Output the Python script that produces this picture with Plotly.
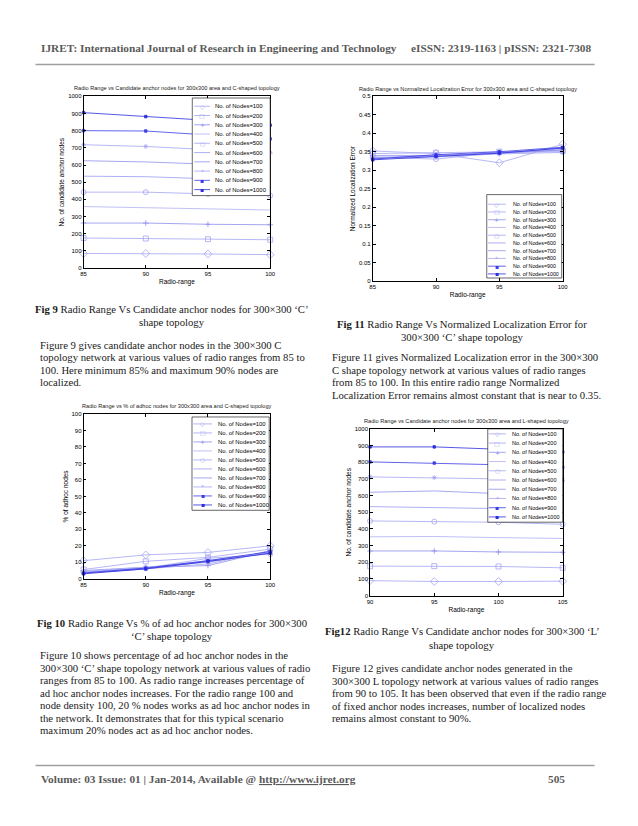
import plotly.graph_objects as go

W, H = 638, 826

node_labels = ['No. of Nodes=100', 'No. of Nodes=200', 'No. of Nodes=300', 'No. of Nodes=400',
               'No. of Nodes=500', 'No. of Nodes=600', 'No. of Nodes=700', 'No. of Nodes=800',
               'No. of Nodes=900', 'No. of Nodes=1000']
radio_range_c = [85, 90, 95, 100]
radio_range_l = [90, 95, 100, 105]

# Fig 9: candidate anchor nodes, C shape
anchor_c = [
    [85, 85, 82, 78],
    [175, 172, 168, 165],
    [262, 262, 255, 252],
    [358, 350, 345, 338],
    [442, 442, 432, 422],
    [535, 532, 520, 508],
    [625, 618, 605, 590],
    [718, 708, 690, 672],
    [800, 798, 775, 752],
    [905, 882, 860, 832],
]

# Fig 11: normalized localization error, C shape
nle_c = [
    [0.352, 0.345, 0.320, 0.370],
    [0.345, 0.347, 0.350, 0.352],
    [0.340, 0.340, 0.345, 0.355],
    [0.338, 0.338, 0.346, 0.358],
    [0.335, 0.330, 0.348, 0.350],
    [0.333, 0.338, 0.347, 0.360],
    [0.332, 0.340, 0.348, 0.355],
    [0.334, 0.336, 0.344, 0.348],
    [0.330, 0.342, 0.350, 0.362],
    [0.328, 0.337, 0.346, 0.360],
]

# Fig 10: % of adhoc nodes, C shape
adhoc_c = [
    [11, 14.5, 16, 20],
    [5.6, 10.6, 13, 18],
    [5, 7, 8, 17],
    [4.5, 7, 10, 16],
    [4, 6.5, 12.4, 15],
    [4, 6.5, 11, 16],
    [3.5, 6, 10.5, 15.5],
    [3.5, 6, 9, 17],
    [3.5, 6.5, 11, 16.5],
    [3, 6, 10.5, 15.5],
]

# Fig 12: candidate anchor nodes, L shape
anchor_l = [
    [90, 85, 85, 87],
    [177, 177, 175, 167],
    [268, 268, 262, 260],
    [353, 355, 348, 343],
    [448, 444, 440, 428],
    [534, 530, 522, 508],
    [620, 628, 612, 597],
    [712, 708, 700, 690],
    [802, 795, 785, 770],
    [892, 892, 878, 861],
]

line_cols = ['#a4a4f2', '#a4a4f2', '#8e8eee', '#b0b0f4', '#a4a4f2',
             '#9a9af0', '#9090ee', '#a4a4f2', '#3c3ce6', '#2c2ce0']
marks = ['diamond-open', 'square-open', 'cross-thin-open', None, 'circle-open',
         None, None, 'asterisk-open', 'square', 'square']
mark_size = [6, 5, 4, 0, 5, 0, 0, 4, 2.5, 2.5]
glyphs = ['\u25c7', '\u25a1', '+', '', '\u25cb', '', '', '*', '\u25aa', '\u25aa']


def px(x):
    return x / W


def py(y):
    return 1 - y / H


panels = [
    dict(x=radio_range_c, y=anchor_c, box=(81.7, 271, 94, 267), yr=(0, 1000),
         yt=list(range(0, 1001, 100)), ty=85.5,
         title='Radio Range vs Candidate anchor nodes for 300x300 area and C-shaped topology',
         ytitle='No. of candidate anchor nodes',
         leg=dict(x0=192, x1=271, y0=95.7, y1=194, r0=104, dy=9.33, s0=194, s1=210, tx=213, fs=5.9)),
    dict(x=radio_range_c, y=nle_c, box=(375, 567.7, 94, 280), yr=(0, 0.5),
         yt=[round(0.05 * i, 2) for i in range(11)], ty=87,
         title='Radio Range vs Normalized Localization Error for 300x300 area and C-shaped topology',
         ytitle='Normalized Localization Error',
         leg=dict(x0=490.7, x1=566.7, y0=193, y1=277, r0=202.7, dy=7.8, s0=492, s1=510, tx=515, fs=5.3)),
    dict(x=radio_range_c, y=adhoc_c, box=(81.7, 271, 414, 580), yr=(0, 100),
         yt=list(range(0, 101, 10)), ty=406,
         title='Radio Range vs % of adhoc nodes for 300x300 area and C-shaped topology',
         ytitle='% of adhoc nodes',
         leg=dict(x0=191.7, x1=270, y0=417, y1=511, r0=424, dy=9.07, s0=193, s1=212, tx=215.7, fs=5.9)),
    dict(x=radio_range_l, y=anchor_l, box=(372.3, 567.7, 429, 597), yr=(0, 1000),
         yt=list(range(0, 1001, 100)), ty=421,
         title='Radio Range vs Candidate anchor nodes for 300x300 area and L-shaped topology',
         ytitle='No. of candidate anchor nodes',
         leg=dict(x0=491.7, x1=567.7, y0=429, y1=523, r0=434, dy=9.3, s0=492.7, s1=510, tx=514, fs=5.5)),
]

fig = go.Figure()
shapes = []
annos = []
layout_axes = {}
tick_font = dict(family='Liberation Sans', size=6, color='black')

for k, p in enumerate(panels):
    sfx = '' if k == 0 else str(k + 1)
    for i, lab in enumerate(node_labels):
        tr = dict(x=p['x'], y=p['y'][i], name=lab, xaxis='x' + sfx, yaxis='y' + sfx,
                  line=dict(color=line_cols[i], width=0.8), cliponaxis=False,
                  mode='lines')
        if marks[i]:
            tr['mode'] = 'lines+markers'
            tr['marker'] = dict(symbol=marks[i], size=mark_size[i], color=line_cols[i],
                                line=dict(color=line_cols[i], width=0.8))
        fig.add_trace(go.Scatter(**tr))

    x0, x1, y0, y1 = p['box']
    layout_axes['xaxis' + sfx] = dict(
        domain=[px(x0), px(x1)], range=[p['x'][0], p['x'][-1]], anchor='y' + sfx,
        tickvals=p['x'], ticks='inside', ticklen=3, tickwidth=0.5, tickcolor='black',
        showline=True, linecolor='black', linewidth=0.6, mirror='ticks',
        showgrid=False, zeroline=False, tickfont=tick_font,
        title=dict(text='Radio-range', standoff=3,
                   font=dict(family='Liberation Sans', size=6.5, color='black')))
    layout_axes['yaxis' + sfx] = dict(
        domain=[py(y1), py(y0)], range=list(p['yr']), anchor='x' + sfx,
        tickvals=p['yt'], ticktext=[f'{v:g}' for v in p['yt']],
        ticks='inside', ticklen=3, tickwidth=0.5, tickcolor='black',
        showline=True, linecolor='black', linewidth=0.6, mirror='ticks',
        showgrid=False, zeroline=False, tickfont=tick_font,
        title=dict(text=p['ytitle'], standoff=2,
                   font=dict(family='Liberation Sans', size=6.5, color='black')))

    annos.append(dict(text=p['title'], x=px((x0 + x1) / 2), y=py(p['ty']), xref='paper',
                      yref='paper', showarrow=False, xanchor='center', yanchor='middle',
                      font=dict(family='Liberation Sans', size=5.6, color='#222')))

    lg = p['leg']
    shapes.append(dict(type='rect', xref='paper', yref='paper', x0=px(lg['x0']), x1=px(lg['x1']),
                       y0=py(lg['y1']), y1=py(lg['y0']), line=dict(color='black', width=0.6),
                       fillcolor='white', layer='above'))
    for i, lab in enumerate(node_labels):
        yy = lg['r0'] + i * lg['dy']
        shapes.append(dict(type='line', xref='paper', yref='paper', x0=px(lg['s0']), x1=px(lg['s1']),
                           y0=py(yy), y1=py(yy), line=dict(color=line_cols[i], width=0.8),
                           layer='above'))
        if glyphs[i]:
            annos.append(dict(text=glyphs[i], x=px((lg['s0'] + lg['s1']) / 2), y=py(yy),
                              xref='paper', yref='paper', showarrow=False,
                              xanchor='center', yanchor='middle',
                              font=dict(family='DejaVu Sans', size=6, color=line_cols[i])))
        annos.append(dict(text=lab, x=px(lg['tx']), y=py(yy), xref='paper', yref='paper',
                          showarrow=False, xanchor='left', yanchor='middle',
                          font=dict(family='Liberation Sans', size=lg['fs'], color='black')))

# page text
body_font = dict(family='Liberation Serif', size=10.7, color='#1a1a1a')


def text_line(txt, x, y, anchor='left', font=body_font):
    annos.append(dict(text=txt, x=px(x), y=py(y), xref='paper', yref='paper', showarrow=False,
                      xanchor=anchor, yanchor='middle', font=font))


def block(lines, x, y, step=12.6):
    for j, t in enumerate(lines):
        text_line(t, x, y + j * step)


head_font = dict(family='Liberation Serif', size=11.3, color='#5a5a5a')
text_line('<b>IJRET: International Journal of Research in Engineering and Technology</b>', 37, 45,
          font=head_font)
text_line('<b>eISSN: 2319-1163 | pISSN: 2321-7308</b>', 598, 45, anchor='right', font=head_font)
text_line("<b>Volume: 03 Issue: 01 | Jan-2014, Available @ "
          "<span style='text-decoration:underline'>http://www.ijret.org</span></b>", 37, 782,
          font=head_font)
text_line('<b>505</b>', 572, 782, anchor='right', font=head_font)
for yy in (62, 768):
    shapes.append(dict(type='line', xref='paper', yref='paper', x0=px(33), x1=px(600),
                       y0=py(yy), y1=py(yy), line=dict(color='#a0a0a0', width=1.5)))

text_line('<b>Fig 9</b> Radio Range Vs Candidate anchor nodes for 300\u00d7300 \u2018C\u2019', 171.5, 308,
          anchor='center')
text_line('shape topology', 171.5, 321, anchor='center')
block(['Figure 9 gives candidate anchor nodes in the 300\u00d7300 C',
       'topology network at various values of radio ranges from 85 to',
       '100. Here minimum 85% and maximum 90% nodes are',
       'localized.'], 36, 344)

text_line('<b>Fig 11</b> Radio Range Vs Normalized Localization Error for', 466, 323, anchor='center')
text_line('300\u00d7300 \u2018C\u2019 shape topology', 466, 336, anchor='center')
block(['Figure 11 gives Normalized Localization error in the 300\u00d7300',
       'C shape topology network at various values of radio ranges',
       'from 85 to 100. In this entire radio range Normalized',
       'Localization Error remains almost constant that is near to 0.35.'], 332, 357)

text_line('<b>Fig 10</b> Radio Range Vs % of ad hoc anchor nodes for 300\u00d7300', 171.5, 625,
          anchor='center')
text_line('\u2018C\u2019 shape topology', 171.5, 638, anchor='center')
block(['Figure 10 shows percentage of ad hoc anchor nodes in the',
       '300\u00d7300 \u2018C\u2019 shape topology network at various values of radio',
       'ranges from 85 to 100. As radio range increases percentage of',
       'ad hoc anchor nodes increases. For the radio range 100 and',
       'node density 100, 20 % nodes works as ad hoc anchor nodes in',
       'the network. It demonstrates that for this typical scenario',
       'maximum 20% nodes act as ad hoc anchor nodes.'], 36, 657)

text_line('<b>Fig12</b> Radio Range Vs Candidate anchor nodes for 300\u00d7300 \u2018L\u2019', 466, 633,
          anchor='center')
text_line('shape topology', 466, 647, anchor='center')
block(['Figure 12 gives candidate anchor nodes generated in the',
       '300\u00d7300 L topology network at various values of radio ranges',
       'from 90 to 105. It has been observed that even if the radio range',
       'of fixed anchor nodes increases, number of localized nodes',
       'remains almost constant to 90%.'], 332, 670)

fig.update_layout(
    width=W, height=H, margin=dict(l=0, r=0, t=0, b=0),
    paper_bgcolor='white', plot_bgcolor='white', showlegend=False,
    shapes=shapes, annotations=annos, **layout_axes)

# the page body has a default 8px margin; drop it so the figure sits at the top-left corner
fig.write_html("out.html", config={'displayModeBar': False},
               post_script="document.body.style.margin='0';")
